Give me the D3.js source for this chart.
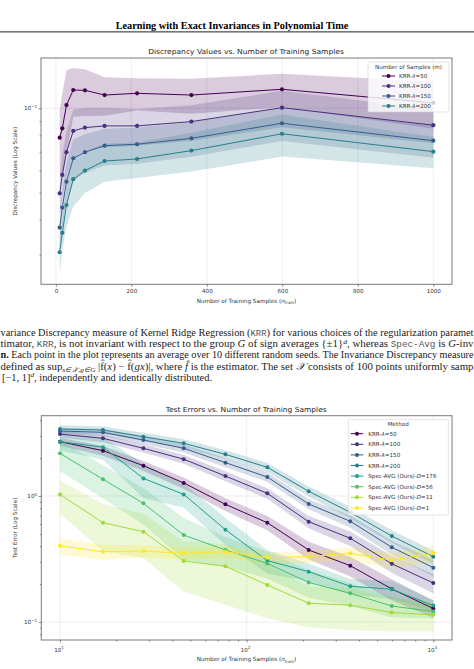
<!DOCTYPE html>
<html><head><meta charset="utf-8">
<script src="https://cdn.jsdelivr.net/npm/d3@7"></script>
<style>body{margin:0;background:#fff} svg{display:block}</style>
</head><body>
<svg id="c" width="474" height="669"></svg>
<script>
// ---------- data ----------
const nTrain = [10, 17, 28, 46, 77, 129, 215, 359, 599, 1000];

// top chart: invariance discrepancy (mean, std)
const discLabels = ["50", "100", "150", "200"];
const discKRR50  = [0.0785, 0.0848, 0.1027, 0.1162, 0.1159, 0.1115, 0.1131, 0.1115, 0.1169, 0.1045];
const discKRR100 = [0.0497, 0.0578, 0.0697, 0.0830, 0.0853, 0.0865, 0.0865, 0.0896, 0.1005, 0.0870];
const discKRR150 = [0.0375, 0.0442, 0.0547, 0.0663, 0.0697, 0.0735, 0.0744, 0.0781, 0.0884, 0.0766];
const discKRR200 = [0.0306, 0.0359, 0.0451, 0.0558, 0.0599, 0.0648, 0.0659, 0.0706, 0.0811, 0.0700];
const discStd50  = [0.020, 0.028, 0.034, 0.023, 0.022, 0.0175, 0.015, 0.016, 0.016, 0.020];
const discStd100 = [0.0075, 0.010, 0.013, 0.016, 0.015, 0.014, 0.013, 0.013, 0.015, 0.012];
const discStd150 = [0.006, 0.007, 0.009, 0.011, 0.011, 0.011, 0.011, 0.011, 0.012, 0.010];
const discStd200 = [0.0048, 0.0047, 0.0073, 0.0112, 0.0101, 0.0101, 0.0095, 0.0112, 0.0139, 0.0089];

// bottom chart: test errors (mean, std)
const errKRR50    = [2.70, 2.29, 1.74, 1.27, 0.859, 0.614, 0.373, 0.280, 0.183, 0.128];
const errKRR100   = [3.10, 2.87, 2.39, 1.96, 1.44, 1.05, 0.625, 0.462, 0.290, 0.204];
const errKRR150   = [3.28, 3.20, 2.78, 2.39, 1.84, 1.415, 0.864, 0.630, 0.392, 0.270];
const errKRR200   = [3.40, 3.34, 2.955, 2.62, 2.14, 1.69, 1.09, 0.742, 0.481, 0.330];
const errSpec176  = [2.70, 2.44, 1.38, 1.03, 0.540, 0.307, 0.251, 0.192, 0.182, 0.135];
const errSpec56   = [2.18, 1.357, 0.875, 0.490, 0.373, 0.292, 0.206, 0.169, 0.134, 0.121];
const errSpec11   = [1.03, 0.614, 0.521, 0.305, 0.277, 0.197, 0.141, 0.136, 0.119, 0.114];
const errSpec1    = [0.403, 0.361, 0.366, 0.351, 0.361, 0.324, 0.330, 0.351, 0.310, 0.351];
const errStdKRR50   = [0.20, 0.20, 0.16, 0.13, 0.10, 0.08, 0.06, 0.05, 0.035, 0.02];
const errStdKRR100  = [0.20, 0.20, 0.18, 0.16, 0.13, 0.10, 0.07, 0.06, 0.045, 0.035];
const errStdKRR150  = [0.20, 0.20, 0.20, 0.18, 0.15, 0.12, 0.08, 0.07, 0.05, 0.04];
const errStdKRR200  = [0.25, 0.22, 0.22, 0.20, 0.17, 0.14, 0.10, 0.08, 0.055, 0.04];
const errStdSpec176 = [0.40, 0.50, 0.42, 0.22, 0.13, 0.065, 0.04, 0.027, 0.03, 0.014];
const errStdSpec56  = [0.60, 0.40, 0.28, 0.18, 0.10, 0.07, 0.05, 0.035, 0.025, 0.015];
const errStdSpec11  = [0.30, 0.25, 0.20, 0.13, 0.14, 0.09, 0.05, 0.05, 0.035, 0.03];
const errStdSpec1   = [0.06, 0.05, 0.04, 0.04, 0.035, 0.035, 0.035, 0.04, 0.045, 0.05];
const methodKRR  = ["50", "100", "150", "200"];
const methodSpec = ["176", "56", "11", "1"];

const topXTicks = [0, 200, 400, 600, 800, 1000];

// ---------- drawing ----------
const svg = d3.select('#c');
const SANS = 'DejaVu Sans, sans-serif';
const SERIF = 'Liberation Serif, Times New Roman, serif';
const MONO = 'Liberation Mono, DejaVu Sans Mono, monospace';
const viridis8 = d3.range(8).map(i => d3.interpolateViridis(i / 7));

svg.append('rect').attr('width', 474).attr('height', 669).attr('fill', '#fff');

// header
svg.append('text').attr('x', 232).attr('y', 28.5).attr('text-anchor', 'middle')
  .attr('font-family', SERIF).attr('font-weight', 'bold').attr('font-size', 10.5)
  .attr('textLength', 232.6).attr('lengthAdjust', 'spacingAndGlyphs')
  .text('Learning with Exact Invariances in Polynomial Time');
svg.append('line').attr('x1', 0).attr('x2', 474).attr('y1', 31.8).attr('y2', 31.8)
  .attr('stroke', '#4a4a4a').attr('stroke-width', 1.3);

function styleAxis(g) {
  g.select('.domain').remove();
  g.selectAll('.tick line').attr('stroke', '#444').attr('stroke-width', 0.6);
  g.selectAll('.tick text').attr('font-family', SANS).attr('font-size', 5.6).attr('fill', '#333');
}

function powLabel(g, x, y, base, exp, anchor) {
  const t = g.append('text').attr('x', x).attr('y', y).attr('text-anchor', anchor)
    .attr('font-family', SANS).attr('font-size', 5.6).attr('fill', '#333');
  t.append('tspan').text(base);
  t.append('tspan').attr('dy', -2.4).attr('font-size', 4).text(exp);
}

function drawBands(g, x, y, series, alpha) {
  series.forEach(s => {
    const pts = nTrain.map((n, i) => ({n, lo: Math.max(s.mean[i] - s.std[i], 1e-4), hi: s.mean[i] + s.std[i]}));
    g.append('path').datum(pts)
      .attr('d', d3.area().x(d => x(d.n)).y0(d => y(d.lo)).y1(d => y(d.hi)))
      .attr('fill', s.color).attr('fill-opacity', alpha).attr('stroke', 'none');
  });
}
function drawLines(g, x, y, series, r) {
  series.forEach(s => {
    const pts = nTrain.map((n, i) => ({n, v: s.mean[i]}));
    g.append('path').datum(pts)
      .attr('d', d3.line().x(d => x(d.n)).y(d => y(d.v)))
      .attr('fill', 'none').attr('stroke', s.color).attr('stroke-width', 1);
    g.selectAll(null).data(pts).enter().append('circle')
      .attr('cx', d => x(d.n)).attr('cy', d => y(d.v)).attr('r', r).attr('fill', s.color);
  });
}
function legendLabel(t, parts) {
  parts.forEach(p => {
    const ts = t.append('tspan').text(p.t);
    if (p.i) ts.attr('font-style', 'italic');
  });
}
function drawLegend(x0, y0, w, h, title, titleY, rows, rowY0, rowDy, lineX0, lineX1, textX) {
  const g = svg.append('g');
  g.append('rect').attr('x', x0).attr('y', y0).attr('width', w).attr('height', h).attr('rx', 1.5)
    .attr('fill', '#fff').attr('fill-opacity', 0.8).attr('stroke', '#d0d0d0').attr('stroke-width', 0.6);
  g.append('text').attr('x', x0 + w / 2).attr('y', titleY).attr('text-anchor', 'middle')
    .attr('font-family', SANS).attr('font-size', 5.6).attr('fill', '#333').text(title);
  rows.forEach((r, i) => {
    const cy = rowY0 + i * rowDy;
    g.append('line').attr('x1', lineX0).attr('x2', lineX1).attr('y1', cy).attr('y2', cy)
      .attr('stroke', r.color).attr('stroke-width', 1);
    g.append('circle').attr('cx', (lineX0 + lineX1) / 2).attr('cy', cy).attr('r', 2).attr('fill', r.color);
    const t = g.append('text').attr('x', textX).attr('y', cy + 2).attr('font-family', SANS)
      .attr('font-size', 5.6).attr('fill', '#333');
    legendLabel(t, r.parts);
  });
}

// ===== TOP CHART =====
const tL = 41, tR = 452, tT = 58, tB = 284.3;
const topX = d3.scaleLinear().domain([-39.5, 1049.5]).range([tL, tR]);
const topY = d3.scaleLog().domain([0.02351, 0.1512]).range([tB, tT]);

svg.append('text').attr('x', 246).attr('y', 53.6).attr('text-anchor', 'middle')
  .attr('font-family', SANS).attr('font-size', 7).attr('fill', '#222')
  .attr('textLength', 195.7).attr('lengthAdjust', 'spacingAndGlyphs')
  .text('Discrepancy Values vs. Number of Training Samples');

const gridStyle = s => s.attr('stroke', '#cfcfcf').attr('stroke-width', 0.6).attr('stroke-dasharray', '1.2,0.8');
const topGrid = svg.append('g');
topXTicks.forEach(v => topGrid.append('line').attr('x1', topX(v)).attr('x2', topX(v)).attr('y1', tT).attr('y2', tB).call(gridStyle));
topGrid.append('line').attr('x1', tL).attr('x2', tR).attr('y1', topY(0.1)).attr('y2', topY(0.1)).call(gridStyle);

svg.append('clipPath').attr('id', 'clipTop').append('rect').attr('x', tL).attr('y', tT).attr('width', tR - tL).attr('height', tB - tT);
const topPlot = svg.append('g').attr('clip-path', 'url(#clipTop)');
const topSeries = [
  {mean: discKRR50, std: discStd50, color: viridis8[0], lab: discLabels[0]},
  {mean: discKRR100, std: discStd100, color: viridis8[1], lab: discLabels[1]},
  {mean: discKRR150, std: discStd150, color: viridis8[2], lab: discLabels[2]},
  {mean: discKRR200, std: discStd200, color: viridis8[3], lab: discLabels[3]},
];
drawBands(topPlot, topX, topY, topSeries, 0.2);
drawLines(topPlot, topX, topY, topSeries, 2.1);

svg.append('rect').attr('x', tL).attr('y', tT).attr('width', tR - tL).attr('height', tB - tT)
  .attr('fill', 'none').attr('stroke', '#7a7a7a').attr('stroke-width', 1);

svg.append('g').attr('transform', `translate(0,${tB})`)
  .call(d3.axisBottom(topX).tickValues(topXTicks).tickSize(2.5).tickPadding(2.5).tickFormat(d3.format('d')))
  .call(styleAxis);
svg.append('g').attr('transform', `translate(${tL},0)`)
  .call(d3.axisLeft(topY).tickValues([0.1]).tickSize(2.5).tickFormat(''))
  .call(styleAxis);
svg.append('g').attr('transform', `translate(${tL},0)`)
  .call(d3.axisLeft(topY).tickValues([0.03, 0.04, 0.05, 0.06, 0.07, 0.08, 0.09]).tickSize(1.5).tickFormat(''))
  .call(styleAxis);
powLabel(svg, 37, topY(0.1) + 2, '10', '\u22121', 'end');

const tx = svg.append('text').attr('x', 246.5).attr('y', 302.6).attr('text-anchor', 'middle')
  .attr('font-family', SANS).attr('font-size', 5.7).attr('fill', '#333');
tx.append('tspan').text('Number of Training Samples (');
tx.append('tspan').attr('font-style', 'italic').text('n');
tx.append('tspan').attr('dy', 1.2).attr('font-size', 4).text('train');
tx.append('tspan').attr('dy', -1.2).text(')');
svg.append('text').attr('transform', `translate(17,${(tT + tB) / 2}) rotate(-90)`).attr('text-anchor', 'middle')
  .attr('font-family', SANS).attr('font-size', 5.7).attr('fill', '#333').text('Discrepancy Values (Log Scale)');

drawLegend(368, 62, 81, 50, 'Number of Samples (m)', 68.6,
  topSeries.map(s => ({color: s.color, parts: [{t: 'KRR-'}, {t: '\u03bb', i: true}, {t: '=' + s.lab}]})),
  76, 10, 382, 395, 399);

// ===== CAPTION =====
const cap = svg.append('g').attr('font-family', SERIF).attr('font-size', 10).attr('fill', '#1a1a1a');
function capLine(x, y, len, parts) {
  const t = cap.append('text').attr('x', x).attr('y', y).attr('textLength', len).attr('lengthAdjust', 'spacingAndGlyphs');
  parts.forEach(p => {
    const ts = t.append('tspan').text(p.t);
    if (p.i) ts.attr('font-style', 'italic');
    if (p.b) ts.attr('font-weight', 'bold');
    if (p.m) ts.attr('font-family', MONO).attr('font-size', 8.6).attr('fill', '#555');
    if (p.dy) ts.attr('dy', p.dy);
    if (p.fs) ts.attr('font-size', p.fs);
  });
}
capLine(0.5, 335.8, 473, [
  {t: 'variance Discrepancy measure of Kernel Ridge Regression ('}, {t: 'KRR', m: true},
  {t: ') for various choices of the regularization paramet'}]);
capLine(0.5, 347, 473, [
  {t: 'timator, '}, {t: 'KRR', m: true}, {t: ', is not invariant with respect to the group '}, {t: 'G', i: true},
  {t: ' of sign averages {\u00b11}'}, {t: 'd', i: true, dy: -3.5, fs: 7}, {t: ', whereas ', dy: 3.5},
  {t: 'Spec-Avg', m: true}, {t: ' is '}, {t: 'G', i: true}, {t: '-inv'}]);
capLine(0.5, 358.4, 473, [
  {t: 'n.', b: true}, {t: ' Each point in the plot represents an average over 10 different random seeds. The Invariance Discrepancy measure'}]);
capLine(0.5, 369.6, 473, [
  {t: 'defined as sup'}, {t: 'x\u2208\ud835\udcb3,g\u2208G', i: true, dy: 2.2, fs: 6.5},
  {t: ' |f\u0302(', dy: -2.2}, {t: 'x', i: true}, {t: ') \u2212 f\u0302('}, {t: 'gx', i: true},
  {t: ')|, where '}, {t: 'f\u0302', i: true}, {t: ' is the estimator. The set '}, {t: '\ud835\udcb3', i: true},
  {t: ' consists of 100 points uniformly samp'}]);
capLine(2, 380.6, 210, [
  {t: '[\u22121, 1]'}, {t: 'd', i: true, dy: -3.5, fs: 7}, {t: ', independently and identically distributed.', dy: 3.5}]);

// ===== BOTTOM CHART =====
const bL = 41.3, bR = 452, bT = 415.7, bB = 640;
const botX = d3.scaleLog().domain([Math.pow(10, 0.9), Math.pow(10, 3.1)]).range([bL, bR]);
const botY = d3.scaleLog().domain([0.0720, 4.338]).range([bB, bT]);

svg.append('text').attr('x', 246.2).attr('y', 411.8).attr('text-anchor', 'middle')
  .attr('font-family', SANS).attr('font-size', 7).attr('fill', '#222')
  .attr('textLength', 161).attr('lengthAdjust', 'spacingAndGlyphs')
  .text('Test Errors vs. Number of Training Samples');

const botGrid = svg.append('g');
[10, 100, 1000].forEach(v => botGrid.append('line').attr('x1', botX(v)).attr('x2', botX(v)).attr('y1', bT).attr('y2', bB).call(gridStyle));
[0.1, 1].forEach(v => botGrid.append('line').attr('x1', bL).attr('x2', bR).attr('y1', botY(v)).attr('y2', botY(v)).call(gridStyle));

svg.append('clipPath').attr('id', 'clipBot').append('rect').attr('x', bL).attr('y', bT).attr('width', bR - bL).attr('height', bB - bT);
const botPlot = svg.append('g').attr('clip-path', 'url(#clipBot)');
const botSeries = [
  {mean: errKRR50, std: errStdKRR50, color: viridis8[0], parts: [{t: 'KRR-'}, {t: '\u03bb', i: true}, {t: '=' + methodKRR[0]}]},
  {mean: errKRR100, std: errStdKRR100, color: viridis8[1], parts: [{t: 'KRR-'}, {t: '\u03bb', i: true}, {t: '=' + methodKRR[1]}]},
  {mean: errKRR150, std: errStdKRR150, color: viridis8[2], parts: [{t: 'KRR-'}, {t: '\u03bb', i: true}, {t: '=' + methodKRR[2]}]},
  {mean: errKRR200, std: errStdKRR200, color: viridis8[3], parts: [{t: 'KRR-'}, {t: '\u03bb', i: true}, {t: '=' + methodKRR[3]}]},
  {mean: errSpec176, std: errStdSpec176, color: viridis8[4], parts: [{t: 'Spec-AVG (Ours)-'}, {t: 'D', i: true}, {t: '=' + methodSpec[0]}]},
  {mean: errSpec56, std: errStdSpec56, color: viridis8[5], parts: [{t: 'Spec-AVG (Ours)-'}, {t: 'D', i: true}, {t: '=' + methodSpec[1]}]},
  {mean: errSpec11, std: errStdSpec11, color: viridis8[6], parts: [{t: 'Spec-AVG (Ours)-'}, {t: 'D', i: true}, {t: '=' + methodSpec[2]}]},
  {mean: errSpec1, std: errStdSpec1, color: viridis8[7], parts: [{t: 'Spec-AVG (Ours)-'}, {t: 'D', i: true}, {t: '=' + methodSpec[3]}]},
];
drawBands(botPlot, botX, botY, botSeries, 0.2);
drawLines(botPlot, botX, botY, botSeries, 2);

svg.append('rect').attr('x', bL).attr('y', bT).attr('width', bR - bL).attr('height', bB - bT)
  .attr('fill', 'none').attr('stroke', '#7a7a7a').attr('stroke-width', 1);

svg.append('g').attr('transform', `translate(0,${bB})`)
  .call(d3.axisBottom(botX).tickValues([10, 100, 1000]).tickSize(2.5).tickFormat(''))
  .call(styleAxis);
svg.append('g').attr('transform', `translate(0,${bB})`)
  .call(d3.axisBottom(botX).tickValues([20,30,40,50,60,70,80,90,200,300,400,500,600,700,800,900]).tickSize(1.5).tickFormat(''))
  .call(styleAxis);
svg.append('g').attr('transform', `translate(${bL},0)`)
  .call(d3.axisLeft(botY).tickValues([0.1, 1]).tickSize(2.5).tickFormat(''))
  .call(styleAxis);
svg.append('g').attr('transform', `translate(${bL},0)`)
  .call(d3.axisLeft(botY).tickValues([0.08,0.09,0.2,0.3,0.4,0.5,0.6,0.7,0.8,0.9,2,3,4]).tickSize(1.5).tickFormat(''))
  .call(styleAxis);
[[10, '1'], [100, '2'], [1000, '3']].forEach(([v, e]) => powLabel(svg, botX(v) - 1, 651.5, '10', e, 'middle'));
powLabel(svg, 37, botY(1) + 2, '10', '0', 'end');
powLabel(svg, 37, botY(0.1) + 2, '10', '\u22121', 'end');

const bx = svg.append('text').attr('x', 246.5).attr('y', 661.3).attr('text-anchor', 'middle')
  .attr('font-family', SANS).attr('font-size', 5.7).attr('fill', '#333');
bx.append('tspan').text('Number of Training Samples (');
bx.append('tspan').attr('font-style', 'italic').text('n');
bx.append('tspan').attr('dy', 1.2).attr('font-size', 4).text('train');
bx.append('tspan').attr('dy', -1.2).text(')');
svg.append('text').attr('transform', `translate(17,${(bT + bB) / 2}) rotate(-90)`).attr('text-anchor', 'middle')
  .attr('font-family', SANS).attr('font-size', 5.7).attr('fill', '#333').text('Test Error (Log Scale)');

drawLegend(348.3, 419.3, 100, 95.7, 'Method', 426.3,
  botSeries.map(s => ({color: s.color, parts: s.parts})),
  433.7, 10.6, 350.7, 363.3, 368.3);
</script>
</body></html>
